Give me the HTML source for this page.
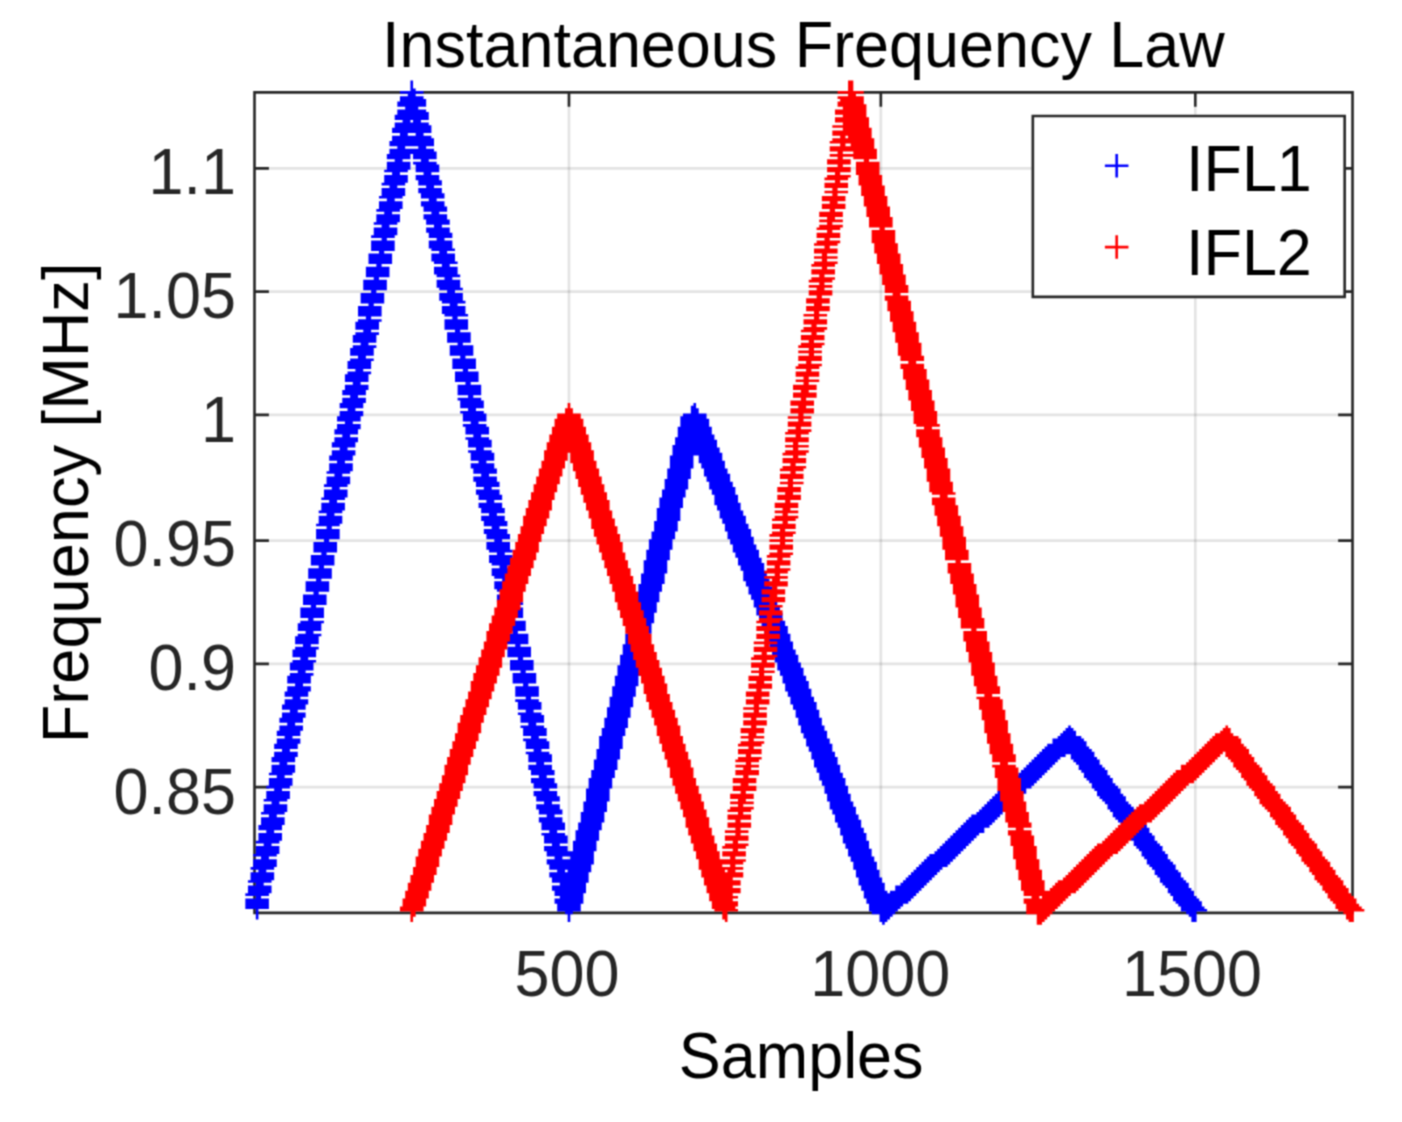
<!DOCTYPE html>
<html><head><meta charset="utf-8"><title>Instantaneous Frequency Law</title>
<style>
html,body{margin:0;padding:0;background:#fff;}
body{width:1402px;height:1122px;overflow:hidden;}
svg{display:block;}
text{font-family:"Liberation Sans",sans-serif;}
</style></head><body>
<svg width="1402" height="1122" viewBox="0 0 1402 1122">
<defs><filter id="soft" x="0" y="0" width="100%" height="100%" filterUnits="userSpaceOnUse" color-interpolation-filters="sRGB">
<feConvolveMatrix order="3" kernelMatrix="0.0529 0.1242 0.0529 0.1242 0.2916 0.1242 0.0529 0.1242 0.0529" edgeMode="duplicate" preserveAlpha="true"/></filter></defs>
<g filter="url(#soft)">
<rect width="1402" height="1122" fill="#fff"/>
<g transform="translate(253.190 91.089) scale(2.6206 2.6215)">
<path d="M120 1h1v312h-1zM239 1h1v312h-1zM359 1h1v312h-1z" fill="#262626" fill-opacity="0.13"/>
<path d="M1 29h418v1h-418zM1 76h418v1h-418zM1 123h418v1h-418zM1 171h418v1h-418zM1 218h418v1h-418zM1 265h418v1h-418z" fill="#262626" fill-opacity="0.13"/>
<path d="M0 0h420v1h-420zM0 313h420v1h-420zM0 0h1v314h-1zM419 0h1v314h-1zM120 1h1v5h-1zM120 308h1v5h-1zM239 1h1v5h-1zM239 308h1v5h-1zM359 1h1v5h-1zM359 308h1v5h-1zM1 29h5v1h-5zM414 29h5v1h-5zM1 76h5v1h-5zM414 76h5v1h-5zM1 123h5v1h-5zM414 123h5v1h-5zM1 171h5v1h-5zM414 171h5v1h-5zM1 218h5v1h-5zM414 218h5v1h-5zM1 265h5v1h-5zM414 265h5v1h-5z" fill="#262626"/>
<path fill="#0000ff" d="M60 -4h1v1h-1zM60 -3h1v1h-1zM60 -2h1v1h-1zM60 -1h2v1h-2zM56 0h9v1h-9zM59 1h3v1h-3zM56 2h9v1h-9zM56 3h10v1h-10zM55 4h11v1h-11zM55 5h11v1h-11zM58 6h5v1h-5zM55 7h11v1h-11zM55 8h12v1h-12zM54 9h13v1h-13zM54 10h13v1h-13zM57 11h3v1h-3zM61 11h3v1h-3zM54 12h13v1h-13zM54 13h14v1h-14zM53 14h15v1h-15zM53 15h15v1h-15zM56 16h3v1h-3zM62 16h3v1h-3zM53 17h15v1h-15zM53 18h16v1h-16zM52 19h17v1h-17zM52 20h17v1h-17zM55 21h3v1h-3zM63 21h3v1h-3zM52 22h17v1h-17zM52 23h18v1h-18zM51 24h9v1h-9zM61 24h9v1h-9zM51 25h9v1h-9zM61 25h9v1h-9zM54 26h3v1h-3zM64 26h3v1h-3zM51 27h9v1h-9zM61 27h9v1h-9zM51 28h9v1h-9zM62 28h9v1h-9zM51 29h9v1h-9zM62 29h9v1h-9zM50 30h9v1h-9zM62 30h9v1h-9zM53 31h3v1h-3zM65 31h3v1h-3zM50 32h9v1h-9zM62 32h9v1h-9zM50 33h9v1h-9zM62 33h9v1h-9zM50 34h9v1h-9zM63 34h9v1h-9zM49 35h9v1h-9zM63 35h9v1h-9zM52 36h3v1h-3zM66 36h3v1h-3zM49 37h9v1h-9zM63 37h9v1h-9zM49 38h9v1h-9zM63 38h9v1h-9zM49 39h9v1h-9zM64 39h9v1h-9zM48 40h9v1h-9zM64 40h9v1h-9zM51 41h3v1h-3zM67 41h3v1h-3zM48 42h9v1h-9zM64 42h9v1h-9zM48 43h9v1h-9zM64 43h9v1h-9zM48 44h9v1h-9zM65 44h9v1h-9zM47 45h9v1h-9zM65 45h9v1h-9zM50 46h3v1h-3zM68 46h3v1h-3zM47 47h9v1h-9zM65 47h9v1h-9zM47 48h9v1h-9zM65 48h9v1h-9zM47 49h9v1h-9zM66 49h9v1h-9zM46 50h9v1h-9zM66 50h9v1h-9zM49 51h3v1h-3zM69 51h3v1h-3zM46 52h9v1h-9zM66 52h9v1h-9zM46 53h9v1h-9zM66 53h9v1h-9zM46 54h9v1h-9zM67 54h9v1h-9zM45 55h9v1h-9zM67 55h9v1h-9zM49 56h2v1h-2zM70 56h3v1h-3zM45 57h9v1h-9zM67 57h9v1h-9zM45 58h9v1h-9zM67 58h9v1h-9zM45 59h9v1h-9zM67 59h9v1h-9zM45 60h9v1h-9zM68 60h9v1h-9zM48 61h2v1h-2zM71 61h3v1h-3zM44 62h9v1h-9zM68 62h9v1h-9zM44 63h9v1h-9zM68 63h9v1h-9zM44 64h9v1h-9zM68 64h9v1h-9zM44 65h9v1h-9zM69 65h9v1h-9zM47 66h2v1h-2zM72 66h3v1h-3zM43 67h9v1h-9zM69 67h9v1h-9zM43 68h9v1h-9zM69 68h9v1h-9zM43 69h9v1h-9zM69 69h9v1h-9zM43 70h9v1h-9zM70 70h9v1h-9zM46 71h2v1h-2zM73 71h3v1h-3zM42 72h9v1h-9zM70 72h9v1h-9zM42 73h9v1h-9zM70 73h9v1h-9zM42 74h9v1h-9zM70 74h9v1h-9zM42 75h9v1h-9zM71 75h9v1h-9zM45 76h2v1h-2zM74 76h3v1h-3zM41 77h9v1h-9zM71 77h9v1h-9zM41 78h9v1h-9zM71 78h9v1h-9zM41 79h9v1h-9zM71 79h9v1h-9zM41 80h9v1h-9zM72 80h9v1h-9zM44 81h2v1h-2zM75 81h3v1h-3zM40 82h9v1h-9zM72 82h9v1h-9zM40 83h9v1h-9zM72 83h9v1h-9zM40 84h9v1h-9zM72 84h9v1h-9zM40 85h9v1h-9zM73 85h9v1h-9zM43 86h2v1h-2zM76 86h2v1h-2zM40 87h9v1h-9zM73 87h9v1h-9zM39 88h9v1h-9zM73 88h9v1h-9zM39 89h9v1h-9zM73 89h9v1h-9zM39 90h9v1h-9zM73 90h9v1h-9zM42 91h3v1h-3zM77 91h2v1h-2zM39 92h9v1h-9zM74 92h9v1h-9zM38 93h9v1h-9zM74 93h9v1h-9zM38 94h9v1h-9zM74 94h9v1h-9zM38 95h9v1h-9zM74 95h9v1h-9zM41 96h3v1h-3zM78 96h2v1h-2zM38 97h9v1h-9zM75 97h9v1h-9zM37 98h9v1h-9zM75 98h9v1h-9zM37 99h9v1h-9zM75 99h9v1h-9zM37 100h9v1h-9zM75 100h9v1h-9zM40 101h3v1h-3zM79 101h2v1h-2zM37 102h9v1h-9zM76 102h9v1h-9zM36 103h9v1h-9zM76 103h9v1h-9zM36 104h9v1h-9zM76 104h9v1h-9zM36 105h9v1h-9zM76 105h9v1h-9zM39 106h3v1h-3zM80 106h2v1h-2zM36 107h9v1h-9zM77 107h9v1h-9zM35 108h9v1h-9zM77 108h9v1h-9zM35 109h9v1h-9zM77 109h9v1h-9zM35 110h9v1h-9zM77 110h9v1h-9zM38 111h3v1h-3zM81 111h2v1h-2zM35 112h9v1h-9zM78 112h9v1h-9zM35 113h9v1h-9zM78 113h9v1h-9zM34 114h9v1h-9zM78 114h9v1h-9zM34 115h9v1h-9zM78 115h9v1h-9zM37 116h3v1h-3zM82 116h2v1h-2zM34 117h9v1h-9zM78 117h9v1h-9zM34 118h9v1h-9zM79 118h9v1h-9zM33 119h9v1h-9zM79 119h9v1h-9zM168 119h1v1h-1zM33 120h9v1h-9zM79 120h9v1h-9zM167 120h2v1h-2zM36 121h3v1h-3zM82 121h3v1h-3zM167 121h3v1h-3zM33 122h9v1h-9zM79 122h9v1h-9zM167 122h3v1h-3zM33 123h9v1h-9zM80 123h9v1h-9zM164 123h9v1h-9zM32 124h9v1h-9zM80 124h9v1h-9zM163 124h10v1h-10zM32 125h9v1h-9zM80 125h9v1h-9zM163 125h11v1h-11zM35 126h3v1h-3zM83 126h3v1h-3zM163 126h11v1h-11zM32 127h9v1h-9zM80 127h9v1h-9zM163 127h11v1h-11zM32 128h9v1h-9zM81 128h9v1h-9zM162 128h13v1h-13zM31 129h9v1h-9zM81 129h9v1h-9zM162 129h13v1h-13zM31 130h9v1h-9zM81 130h9v1h-9zM162 130h13v1h-13zM34 131h3v1h-3zM84 131h3v1h-3zM162 131h14v1h-14zM31 132h9v1h-9zM81 132h9v1h-9zM161 132h15v1h-15zM31 133h9v1h-9zM82 133h9v1h-9zM161 133h16v1h-16zM30 134h9v1h-9zM82 134h9v1h-9zM161 134h16v1h-16zM30 135h9v1h-9zM82 135h9v1h-9zM160 135h17v1h-17zM33 136h3v1h-3zM85 136h3v1h-3zM160 136h18v1h-18zM30 137h9v1h-9zM82 137h9v1h-9zM160 137h18v1h-18zM30 138h9v1h-9zM83 138h9v1h-9zM160 138h19v1h-19zM29 139h9v1h-9zM83 139h9v1h-9zM159 139h9v1h-9zM170 139h9v1h-9zM29 140h9v1h-9zM83 140h9v1h-9zM159 140h9v1h-9zM170 140h9v1h-9zM32 141h3v1h-3zM86 141h3v1h-3zM159 141h9v1h-9zM170 141h10v1h-10zM29 142h9v1h-9zM83 142h9v1h-9zM159 142h9v1h-9zM171 142h9v1h-9zM29 143h9v1h-9zM83 143h9v1h-9zM159 143h9v1h-9zM171 143h9v1h-9zM29 144h9v1h-9zM84 144h9v1h-9zM158 144h9v1h-9zM172 144h9v1h-9zM28 145h9v1h-9zM84 145h9v1h-9zM158 145h9v1h-9zM172 145h9v1h-9zM31 146h3v1h-3zM87 146h3v1h-3zM158 146h9v1h-9zM172 146h10v1h-10zM28 147h9v1h-9zM84 147h9v1h-9zM158 147h9v1h-9zM173 147h9v1h-9zM28 148h9v1h-9zM84 148h9v1h-9zM157 148h9v1h-9zM173 148h9v1h-9zM28 149h9v1h-9zM85 149h9v1h-9zM157 149h9v1h-9zM174 149h9v1h-9zM27 150h9v1h-9zM85 150h9v1h-9zM157 150h9v1h-9zM174 150h9v1h-9zM30 151h3v1h-3zM88 151h3v1h-3zM157 151h9v1h-9zM174 151h10v1h-10zM27 152h9v1h-9zM85 152h9v1h-9zM156 152h9v1h-9zM175 152h9v1h-9zM27 153h9v1h-9zM85 153h9v1h-9zM156 153h9v1h-9zM175 153h9v1h-9zM27 154h9v1h-9zM86 154h9v1h-9zM156 154h9v1h-9zM176 154h9v1h-9zM26 155h9v1h-9zM86 155h9v1h-9zM155 155h9v1h-9zM176 155h9v1h-9zM29 156h3v1h-3zM89 156h3v1h-3zM155 156h9v1h-9zM176 156h9v1h-9zM26 157h9v1h-9zM86 157h9v1h-9zM155 157h9v1h-9zM176 157h10v1h-10zM26 158h9v1h-9zM86 158h9v1h-9zM155 158h9v1h-9zM177 158h9v1h-9zM26 159h9v1h-9zM87 159h9v1h-9zM154 159h9v1h-9zM177 159h9v1h-9zM25 160h9v1h-9zM87 160h9v1h-9zM154 160h9v1h-9zM178 160h9v1h-9zM28 161h3v1h-3zM90 161h3v1h-3zM154 161h9v1h-9zM178 161h9v1h-9zM25 162h9v1h-9zM87 162h9v1h-9zM154 162h9v1h-9zM178 162h10v1h-10zM25 163h9v1h-9zM87 163h9v1h-9zM154 163h9v1h-9zM179 163h9v1h-9zM25 164h9v1h-9zM88 164h9v1h-9zM153 164h9v1h-9zM179 164h9v1h-9zM24 165h9v1h-9zM88 165h9v1h-9zM153 165h9v1h-9zM180 165h9v1h-9zM28 166h2v1h-2zM91 166h3v1h-3zM153 166h9v1h-9zM180 166h9v1h-9zM24 167h9v1h-9zM88 167h9v1h-9zM153 167h9v1h-9zM180 167h10v1h-10zM24 168h9v1h-9zM88 168h9v1h-9zM152 168h9v1h-9zM181 168h9v1h-9zM24 169h9v1h-9zM89 169h9v1h-9zM152 169h9v1h-9zM181 169h9v1h-9zM24 170h9v1h-9zM89 170h9v1h-9zM152 170h9v1h-9zM181 170h10v1h-10zM27 171h2v1h-2zM92 171h3v1h-3zM151 171h9v1h-9zM182 171h9v1h-9zM23 172h9v1h-9zM89 172h9v1h-9zM151 172h9v1h-9zM182 172h9v1h-9zM23 173h9v1h-9zM89 173h9v1h-9zM151 173h9v1h-9zM183 173h9v1h-9zM23 174h9v1h-9zM89 174h9v1h-9zM151 174h9v1h-9zM183 174h9v1h-9zM23 175h9v1h-9zM90 175h9v1h-9zM150 175h9v1h-9zM183 175h10v1h-10zM26 176h2v1h-2zM93 176h3v1h-3zM150 176h9v1h-9zM184 176h9v1h-9zM22 177h9v1h-9zM90 177h9v1h-9zM150 177h9v1h-9zM184 177h9v1h-9zM22 178h9v1h-9zM90 178h9v1h-9zM150 178h9v1h-9zM185 178h9v1h-9zM22 179h9v1h-9zM90 179h9v1h-9zM149 179h9v1h-9zM185 179h9v1h-9zM22 180h9v1h-9zM91 180h9v1h-9zM149 180h9v1h-9zM185 180h10v1h-10zM25 181h2v1h-2zM94 181h3v1h-3zM149 181h9v1h-9zM186 181h9v1h-9zM21 182h9v1h-9zM91 182h9v1h-9zM149 182h9v1h-9zM186 182h9v1h-9zM21 183h9v1h-9zM91 183h9v1h-9zM149 183h9v1h-9zM187 183h9v1h-9zM21 184h9v1h-9zM91 184h9v1h-9zM148 184h9v1h-9zM187 184h9v1h-9zM21 185h9v1h-9zM92 185h9v1h-9zM148 185h9v1h-9zM187 185h9v1h-9zM24 186h2v1h-2zM95 186h3v1h-3zM148 186h9v1h-9zM187 186h10v1h-10zM20 187h9v1h-9zM92 187h9v1h-9zM148 187h9v1h-9zM188 187h9v1h-9zM20 188h9v1h-9zM92 188h9v1h-9zM147 188h9v1h-9zM188 188h9v1h-9zM20 189h9v1h-9zM92 189h9v1h-9zM147 189h9v1h-9zM189 189h9v1h-9zM20 190h9v1h-9zM93 190h9v1h-9zM147 190h9v1h-9zM189 190h9v1h-9zM23 191h2v1h-2zM96 191h3v1h-3zM146 191h9v1h-9zM189 191h10v1h-10zM19 192h9v1h-9zM93 192h9v1h-9zM146 192h9v1h-9zM190 192h9v1h-9zM19 193h9v1h-9zM93 193h9v1h-9zM146 193h9v1h-9zM190 193h9v1h-9zM19 194h9v1h-9zM93 194h9v1h-9zM146 194h9v1h-9zM191 194h9v1h-9zM19 195h9v1h-9zM94 195h9v1h-9zM145 195h9v1h-9zM191 195h9v1h-9zM22 196h2v1h-2zM97 196h2v1h-2zM145 196h9v1h-9zM191 196h10v1h-10zM18 197h9v1h-9zM94 197h9v1h-9zM145 197h9v1h-9zM192 197h9v1h-9zM18 198h9v1h-9zM94 198h9v1h-9zM145 198h9v1h-9zM192 198h9v1h-9zM18 199h9v1h-9zM94 199h9v1h-9zM144 199h9v1h-9zM192 199h10v1h-10zM18 200h9v1h-9zM94 200h9v1h-9zM144 200h9v1h-9zM193 200h9v1h-9zM21 201h2v1h-2zM98 201h2v1h-2zM144 201h9v1h-9zM193 201h9v1h-9zM18 202h9v1h-9zM95 202h9v1h-9zM144 202h9v1h-9zM194 202h9v1h-9zM17 203h9v1h-9zM95 203h9v1h-9zM143 203h9v1h-9zM194 203h9v1h-9zM17 204h9v1h-9zM95 204h9v1h-9zM143 204h9v1h-9zM194 204h10v1h-10zM17 205h9v1h-9zM95 205h9v1h-9zM143 205h9v1h-9zM195 205h9v1h-9zM20 206h3v1h-3zM99 206h2v1h-2zM143 206h9v1h-9zM195 206h9v1h-9zM17 207h9v1h-9zM96 207h9v1h-9zM142 207h9v1h-9zM196 207h9v1h-9zM16 208h9v1h-9zM96 208h9v1h-9zM142 208h9v1h-9zM196 208h9v1h-9zM16 209h9v1h-9zM96 209h9v1h-9zM142 209h9v1h-9zM196 209h9v1h-9zM16 210h9v1h-9zM96 210h9v1h-9zM142 210h9v1h-9zM197 210h9v1h-9zM19 211h3v1h-3zM100 211h2v1h-2zM141 211h9v1h-9zM197 211h9v1h-9zM16 212h9v1h-9zM97 212h9v1h-9zM141 212h9v1h-9zM197 212h9v1h-9zM15 213h9v1h-9zM97 213h9v1h-9zM141 213h9v1h-9zM198 213h9v1h-9zM15 214h9v1h-9zM97 214h9v1h-9zM141 214h9v1h-9zM198 214h9v1h-9zM15 215h9v1h-9zM97 215h9v1h-9zM140 215h9v1h-9zM198 215h10v1h-10zM18 216h3v1h-3zM101 216h2v1h-2zM140 216h9v1h-9zM199 216h9v1h-9zM15 217h9v1h-9zM98 217h9v1h-9zM140 217h9v1h-9zM199 217h9v1h-9zM14 218h9v1h-9zM98 218h9v1h-9zM140 218h9v1h-9zM200 218h9v1h-9zM14 219h9v1h-9zM98 219h9v1h-9zM139 219h9v1h-9zM200 219h9v1h-9zM14 220h9v1h-9zM98 220h9v1h-9zM139 220h9v1h-9zM200 220h10v1h-10zM17 221h3v1h-3zM102 221h2v1h-2zM139 221h9v1h-9zM201 221h9v1h-9zM14 222h9v1h-9zM99 222h9v1h-9zM139 222h9v1h-9zM201 222h9v1h-9zM13 223h9v1h-9zM99 223h9v1h-9zM138 223h9v1h-9zM202 223h9v1h-9zM13 224h9v1h-9zM99 224h9v1h-9zM138 224h9v1h-9zM202 224h9v1h-9zM13 225h9v1h-9zM99 225h9v1h-9zM138 225h9v1h-9zM202 225h10v1h-10zM16 226h3v1h-3zM103 226h2v1h-2zM138 226h9v1h-9zM203 226h9v1h-9zM13 227h9v1h-9zM100 227h9v1h-9zM137 227h9v1h-9zM203 227h9v1h-9zM13 228h9v1h-9zM100 228h9v1h-9zM137 228h9v1h-9zM203 228h10v1h-10zM12 229h9v1h-9zM100 229h9v1h-9zM137 229h9v1h-9zM204 229h9v1h-9zM12 230h9v1h-9zM100 230h9v1h-9zM137 230h9v1h-9zM204 230h9v1h-9zM15 231h3v1h-3zM104 231h2v1h-2zM136 231h9v1h-9zM205 231h9v1h-9zM12 232h9v1h-9zM100 232h9v1h-9zM136 232h9v1h-9zM205 232h9v1h-9zM12 233h9v1h-9zM101 233h9v1h-9zM136 233h9v1h-9zM205 233h10v1h-10zM11 234h9v1h-9zM101 234h9v1h-9zM136 234h9v1h-9zM206 234h9v1h-9zM11 235h9v1h-9zM101 235h9v1h-9zM135 235h9v1h-9zM206 235h9v1h-9zM14 236h3v1h-3zM104 236h3v1h-3zM135 236h9v1h-9zM207 236h9v1h-9zM11 237h9v1h-9zM101 237h9v1h-9zM135 237h9v1h-9zM207 237h9v1h-9zM11 238h9v1h-9zM102 238h9v1h-9zM135 238h9v1h-9zM207 238h9v1h-9zM10 239h9v1h-9zM102 239h9v1h-9zM134 239h9v1h-9zM208 239h9v1h-9zM10 240h9v1h-9zM102 240h9v1h-9zM134 240h9v1h-9zM208 240h9v1h-9zM13 241h3v1h-3zM105 241h3v1h-3zM134 241h9v1h-9zM208 241h9v1h-9zM10 242h9v1h-9zM102 242h9v1h-9zM134 242h9v1h-9zM209 242h9v1h-9zM311 242h1v1h-1zM10 243h9v1h-9zM103 243h9v1h-9zM133 243h9v1h-9zM209 243h9v1h-9zM310 243h3v1h-3zM9 244h9v1h-9zM103 244h9v1h-9zM133 244h9v1h-9zM209 244h10v1h-10zM309 244h5v1h-5zM9 245h9v1h-9zM103 245h9v1h-9zM133 245h9v1h-9zM210 245h9v1h-9zM308 245h6v1h-6zM12 246h3v1h-3zM106 246h3v1h-3zM132 246h9v1h-9zM210 246h9v1h-9zM307 246h9v1h-9zM9 247h9v1h-9zM103 247h9v1h-9zM132 247h9v1h-9zM211 247h9v1h-9zM305 247h12v1h-12zM9 248h9v1h-9zM104 248h9v1h-9zM132 248h9v1h-9zM211 248h9v1h-9zM305 248h13v1h-13zM8 249h9v1h-9zM104 249h9v1h-9zM132 249h9v1h-9zM211 249h10v1h-10zM303 249h15v1h-15zM8 250h9v1h-9zM104 250h9v1h-9zM132 250h9v1h-9zM212 250h9v1h-9zM302 250h17v1h-17zM11 251h3v1h-3zM107 251h3v1h-3zM131 251h9v1h-9zM212 251h9v1h-9zM301 251h19v1h-19zM8 252h9v1h-9zM104 252h9v1h-9zM131 252h9v1h-9zM213 252h9v1h-9zM300 252h21v1h-21zM8 253h9v1h-9zM105 253h9v1h-9zM131 253h9v1h-9zM213 253h9v1h-9zM299 253h11v1h-11zM312 253h9v1h-9zM7 254h9v1h-9zM105 254h9v1h-9zM131 254h9v1h-9zM213 254h10v1h-10zM298 254h10v1h-10zM312 254h10v1h-10zM7 255h9v1h-9zM105 255h9v1h-9zM130 255h9v1h-9zM214 255h9v1h-9zM297 255h10v1h-10zM313 255h10v1h-10zM10 256h3v1h-3zM108 256h3v1h-3zM130 256h9v1h-9zM214 256h9v1h-9zM296 256h10v1h-10zM314 256h9v1h-9zM7 257h9v1h-9zM105 257h9v1h-9zM130 257h9v1h-9zM214 257h10v1h-10zM295 257h10v1h-10zM315 257h9v1h-9zM7 258h9v1h-9zM105 258h9v1h-9zM130 258h9v1h-9zM215 258h9v1h-9zM294 258h10v1h-10zM315 258h10v1h-10zM7 259h9v1h-9zM106 259h9v1h-9zM129 259h9v1h-9zM215 259h9v1h-9zM293 259h10v1h-10zM316 259h10v1h-10zM6 260h9v1h-9zM106 260h9v1h-9zM129 260h9v1h-9zM216 260h9v1h-9zM292 260h10v1h-10zM317 260h9v1h-9zM9 261h3v1h-3zM109 261h3v1h-3zM129 261h9v1h-9zM216 261h9v1h-9zM290 261h11v1h-11zM317 261h10v1h-10zM6 262h9v1h-9zM106 262h9v1h-9zM128 262h9v1h-9zM216 262h10v1h-10zM289 262h11v1h-11zM318 262h10v1h-10zM6 263h9v1h-9zM106 263h9v1h-9zM128 263h9v1h-9zM217 263h9v1h-9zM288 263h11v1h-11zM319 263h9v1h-9zM6 264h9v1h-9zM107 264h9v1h-9zM128 264h9v1h-9zM217 264h9v1h-9zM287 264h11v1h-11zM320 264h9v1h-9zM5 265h9v1h-9zM107 265h9v1h-9zM128 265h9v1h-9zM218 265h9v1h-9zM286 265h11v1h-11zM320 265h10v1h-10zM8 266h3v1h-3zM110 266h3v1h-3zM127 266h9v1h-9zM218 266h9v1h-9zM285 266h10v1h-10zM321 266h10v1h-10zM5 267h9v1h-9zM107 267h9v1h-9zM127 267h9v1h-9zM218 267h9v1h-9zM284 267h11v1h-11zM322 267h9v1h-9zM5 268h9v1h-9zM107 268h9v1h-9zM127 268h9v1h-9zM219 268h9v1h-9zM283 268h10v1h-10zM322 268h10v1h-10zM5 269h9v1h-9zM108 269h9v1h-9zM127 269h9v1h-9zM219 269h9v1h-9zM282 269h10v1h-10zM323 269h10v1h-10zM4 270h9v1h-9zM108 270h9v1h-9zM127 270h9v1h-9zM219 270h9v1h-9zM281 270h10v1h-10zM324 270h9v1h-9zM7 271h3v1h-3zM111 271h3v1h-3zM126 271h9v1h-9zM220 271h9v1h-9zM280 271h10v1h-10zM325 271h9v1h-9zM4 272h9v1h-9zM108 272h9v1h-9zM126 272h9v1h-9zM220 272h9v1h-9zM279 272h10v1h-10zM326 272h9v1h-9zM4 273h9v1h-9zM108 273h9v1h-9zM126 273h9v1h-9zM220 273h10v1h-10zM278 273h10v1h-10zM326 273h10v1h-10zM4 274h9v1h-9zM109 274h9v1h-9zM126 274h9v1h-9zM221 274h9v1h-9zM277 274h10v1h-10zM327 274h10v1h-10zM3 275h9v1h-9zM109 275h9v1h-9zM125 275h9v1h-9zM221 275h9v1h-9zM276 275h10v1h-10zM328 275h9v1h-9zM6 276h3v1h-3zM112 276h3v1h-3zM125 276h9v1h-9zM222 276h9v1h-9zM274 276h11v1h-11zM328 276h10v1h-10zM3 277h9v1h-9zM109 277h9v1h-9zM125 277h9v1h-9zM222 277h9v1h-9zM273 277h11v1h-11zM329 277h10v1h-10zM3 278h9v1h-9zM109 278h9v1h-9zM125 278h9v1h-9zM222 278h10v1h-10zM272 278h11v1h-11zM330 278h9v1h-9zM3 279h9v1h-9zM110 279h9v1h-9zM124 279h9v1h-9zM223 279h9v1h-9zM271 279h11v1h-11zM331 279h9v1h-9zM2 280h9v1h-9zM110 280h9v1h-9zM124 280h9v1h-9zM223 280h9v1h-9zM270 280h11v1h-11zM331 280h10v1h-10zM2 281h9v1h-9zM110 281h9v1h-9zM124 281h9v1h-9zM224 281h9v1h-9zM269 281h10v1h-10zM332 281h10v1h-10zM5 282h3v1h-3zM113 282h3v1h-3zM123 282h9v1h-9zM224 282h9v1h-9zM268 282h11v1h-11zM333 282h9v1h-9zM2 283h9v1h-9zM110 283h9v1h-9zM123 283h9v1h-9zM224 283h10v1h-10zM267 283h10v1h-10zM333 283h10v1h-10zM2 284h9v1h-9zM111 284h9v1h-9zM123 284h9v1h-9zM225 284h9v1h-9zM266 284h10v1h-10zM334 284h10v1h-10zM2 285h9v1h-9zM111 285h9v1h-9zM123 285h9v1h-9zM225 285h9v1h-9zM265 285h10v1h-10zM335 285h9v1h-9zM1 286h9v1h-9zM111 286h9v1h-9zM122 286h9v1h-9zM225 286h10v1h-10zM264 286h10v1h-10zM336 286h9v1h-9zM4 287h3v1h-3zM114 287h3v1h-3zM122 287h9v1h-9zM226 287h9v1h-9zM263 287h10v1h-10zM336 287h10v1h-10zM1 288h9v1h-9zM111 288h9v1h-9zM122 288h9v1h-9zM226 288h9v1h-9zM262 288h10v1h-10zM337 288h10v1h-10zM1 289h9v1h-9zM111 289h9v1h-9zM122 289h9v1h-9zM227 289h9v1h-9zM261 289h10v1h-10zM338 289h9v1h-9zM1 290h9v1h-9zM112 290h18v1h-18zM227 290h9v1h-9zM260 290h10v1h-10zM339 290h9v1h-9zM0 291h9v1h-9zM112 291h18v1h-18zM227 291h9v1h-9zM258 291h11v1h-11zM339 291h10v1h-10zM3 292h3v1h-3zM115 292h3v1h-3zM121 292h9v1h-9zM228 292h9v1h-9zM257 292h11v1h-11zM340 292h9v1h-9zM0 293h9v1h-9zM112 293h18v1h-18zM228 293h9v1h-9zM256 293h11v1h-11zM341 293h9v1h-9zM0 294h9v1h-9zM112 294h18v1h-18zM229 294h9v1h-9zM255 294h11v1h-11zM341 294h10v1h-10zM0 295h9v1h-9zM113 295h16v1h-16zM229 295h9v1h-9zM254 295h11v1h-11zM342 295h10v1h-10zM-1 296h9v1h-9zM113 296h16v1h-16zM229 296h9v1h-9zM253 296h10v1h-10zM343 296h9v1h-9zM2 297h3v1h-3zM116 297h3v1h-3zM120 297h9v1h-9zM230 297h9v1h-9zM252 297h10v1h-10zM344 297h9v1h-9zM-1 298h9v1h-9zM113 298h15v1h-15zM230 298h9v1h-9zM251 298h10v1h-10zM344 298h10v1h-10zM-1 299h9v1h-9zM113 299h15v1h-15zM230 299h9v1h-9zM250 299h10v1h-10zM345 299h9v1h-9zM-1 300h9v1h-9zM114 300h14v1h-14zM231 300h9v1h-9zM249 300h10v1h-10zM346 300h9v1h-9zM-2 301h9v1h-9zM114 301h14v1h-14zM231 301h9v1h-9zM248 301h10v1h-10zM346 301h10v1h-10zM1 302h3v1h-3zM117 302h10v1h-10zM231 302h10v1h-10zM247 302h10v1h-10zM347 302h10v1h-10zM-2 303h9v1h-9zM114 303h13v1h-13zM232 303h9v1h-9zM245 303h11v1h-11zM348 303h9v1h-9zM-2 304h9v1h-9zM114 304h13v1h-13zM232 304h9v1h-9zM245 304h10v1h-10zM349 304h9v1h-9zM-2 305h9v1h-9zM115 305h12v1h-12zM233 305h9v1h-9zM243 305h11v1h-11zM349 305h10v1h-10zM-3 306h9v1h-9zM115 306h11v1h-11zM233 306h20v1h-20zM350 306h9v1h-9zM1 307h2v1h-2zM117 307h9v1h-9zM233 307h19v1h-19zM351 307h9v1h-9zM-3 308h9v1h-9zM115 308h11v1h-11zM234 308h17v1h-17zM351 308h10v1h-10zM-3 309h9v1h-9zM115 309h11v1h-11zM234 309h16v1h-16zM352 309h10v1h-10zM-3 310h9v1h-9zM116 310h9v1h-9zM235 310h13v1h-13zM353 310h9v1h-9zM-3 311h9v1h-9zM116 311h9v1h-9zM235 311h12v1h-12zM354 311h9v1h-9zM1 312h1v1h-1zM116 312h9v1h-9zM235 312h11v1h-11zM354 312h10v1h-10zM1 313h1v1h-1zM119 313h3v1h-3zM236 313h9v1h-9zM356 313h4v1h-4zM1 314h1v1h-1zM120 314h1v1h-1zM239 314h5v1h-5zM357 314h3v1h-3zM1 315h1v1h-1zM120 315h1v1h-1zM239 315h4v1h-4zM358 315h2v1h-2zM120 316h1v1h-1zM239 316h3v1h-3zM358 316h2v1h-2zM240 317h1v1h-1z"/>
<path fill="#ff0000" d="M227 -4h2v1h-2zM227 -3h2v1h-2zM227 -2h2v1h-2zM227 -1h2v1h-2zM223 0h10v1h-10zM227 1h3v1h-3zM223 2h10v1h-10zM224 3h9v1h-9zM223 4h10v1h-10zM223 5h11v1h-11zM225 6h9v1h-9zM222 7h12v1h-12zM222 8h12v1h-12zM225 9h9v1h-9zM222 10h13v1h-13zM222 11h13v1h-13zM225 12h10v1h-10zM221 13h14v1h-14zM225 14h11v1h-11zM221 15h15v1h-15zM221 16h15v1h-15zM224 17h2v1h-2zM227 17h9v1h-9zM221 18h16v1h-16zM220 19h17v1h-17zM224 20h2v1h-2zM228 20h9v1h-9zM220 21h17v1h-17zM220 22h18v1h-18zM223 23h2v1h-2zM229 23h9v1h-9zM220 24h18v1h-18zM223 25h2v1h-2zM229 25h9v1h-9zM219 26h9v1h-9zM233 26h2v1h-2zM219 27h9v1h-9zM230 27h9v1h-9zM223 28h2v1h-2zM230 28h9v1h-9zM219 29h9v1h-9zM230 29h9v1h-9zM219 30h9v1h-9zM230 30h9v1h-9zM222 31h2v1h-2zM230 31h9v1h-9zM219 32h9v1h-9zM231 32h9v1h-9zM218 33h9v1h-9zM231 33h9v1h-9zM222 34h2v1h-2zM231 34h9v1h-9zM218 35h9v1h-9zM231 35h9v1h-9zM218 36h9v1h-9zM232 36h9v1h-9zM221 37h2v1h-2zM232 37h9v1h-9zM218 38h9v1h-9zM232 38h9v1h-9zM221 39h2v1h-2zM232 39h9v1h-9zM217 40h9v1h-9zM233 40h9v1h-9zM217 41h9v1h-9zM233 41h9v1h-9zM220 42h3v1h-3zM233 42h9v1h-9zM217 43h9v1h-9zM233 43h9v1h-9zM217 44h9v1h-9zM234 44h9v1h-9zM220 45h2v1h-2zM234 45h9v1h-9zM216 46h9v1h-9zM234 46h9v1h-9zM216 47h9v1h-9zM234 47h9v1h-9zM219 48h3v1h-3zM235 48h9v1h-9zM216 49h9v1h-9zM235 49h9v1h-9zM219 50h2v1h-2zM235 50h9v1h-9zM216 51h9v1h-9zM235 51h9v1h-9zM215 52h9v1h-9zM239 52h2v1h-2zM219 53h2v1h-2zM236 53h9v1h-9zM215 54h9v1h-9zM236 54h9v1h-9zM215 55h9v1h-9zM236 55h9v1h-9zM218 56h2v1h-2zM236 56h9v1h-9zM215 57h9v1h-9zM236 57h9v1h-9zM214 58h9v1h-9zM237 58h9v1h-9zM218 59h2v1h-2zM237 59h9v1h-9zM214 60h9v1h-9zM237 60h9v1h-9zM214 61h9v1h-9zM237 61h9v1h-9zM217 62h2v1h-2zM238 62h9v1h-9zM214 63h9v1h-9zM238 63h9v1h-9zM217 64h2v1h-2zM238 64h9v1h-9zM214 65h9v1h-9zM238 65h9v1h-9zM213 66h9v1h-9zM239 66h9v1h-9zM217 67h2v1h-2zM239 67h9v1h-9zM213 68h9v1h-9zM239 68h9v1h-9zM213 69h9v1h-9zM239 69h9v1h-9zM216 70h2v1h-2zM240 70h9v1h-9zM213 71h9v1h-9zM240 71h9v1h-9zM212 72h9v1h-9zM240 72h9v1h-9zM216 73h2v1h-2zM240 73h9v1h-9zM212 74h9v1h-9zM241 74h9v1h-9zM215 75h3v1h-3zM241 75h9v1h-9zM212 76h9v1h-9zM241 76h9v1h-9zM212 77h9v1h-9zM244 77h3v1h-3zM215 78h2v1h-2zM241 78h9v1h-9zM211 79h9v1h-9zM241 79h9v1h-9zM211 80h9v1h-9zM242 80h9v1h-9zM214 81h3v1h-3zM242 81h9v1h-9zM211 82h9v1h-9zM242 82h9v1h-9zM211 83h9v1h-9zM242 83h9v1h-9zM214 84h2v1h-2zM243 84h9v1h-9zM210 85h9v1h-9zM243 85h9v1h-9zM214 86h2v1h-2zM243 86h9v1h-9zM210 87h9v1h-9zM243 87h9v1h-9zM210 88h9v1h-9zM244 88h9v1h-9zM213 89h2v1h-2zM244 89h9v1h-9zM210 90h9v1h-9zM244 90h9v1h-9zM209 91h9v1h-9zM244 91h9v1h-9zM213 92h2v1h-2zM245 92h9v1h-9zM209 93h9v1h-9zM245 93h9v1h-9zM209 94h9v1h-9zM245 94h9v1h-9zM212 95h2v1h-2zM245 95h9v1h-9zM209 96h9v1h-9zM246 96h9v1h-9zM208 97h9v1h-9zM246 97h9v1h-9zM212 98h2v1h-2zM246 98h9v1h-9zM208 99h9v1h-9zM246 99h9v1h-9zM212 100h2v1h-2zM246 100h9v1h-9zM208 101h9v1h-9zM247 101h9v1h-9zM208 102h9v1h-9zM247 102h9v1h-9zM211 103h2v1h-2zM250 103h3v1h-3zM208 104h9v1h-9zM247 104h9v1h-9zM207 105h9v1h-9zM247 105h9v1h-9zM211 106h2v1h-2zM248 106h9v1h-9zM207 107h9v1h-9zM248 107h9v1h-9zM207 108h9v1h-9zM248 108h9v1h-9zM210 109h2v1h-2zM248 109h9v1h-9zM207 110h9v1h-9zM249 110h9v1h-9zM210 111h2v1h-2zM249 111h9v1h-9zM206 112h9v1h-9zM249 112h9v1h-9zM206 113h9v1h-9zM249 113h9v1h-9zM209 114h3v1h-3zM250 114h9v1h-9zM206 115h9v1h-9zM250 115h9v1h-9zM206 116h9v1h-9zM250 116h9v1h-9zM209 117h2v1h-2zM250 117h9v1h-9zM205 118h9v1h-9zM251 118h9v1h-9zM120 119h1v1h-1zM205 119h9v1h-9zM251 119h9v1h-9zM120 120h1v1h-1zM208 120h3v1h-3zM251 120h9v1h-9zM119 121h3v1h-3zM205 121h9v1h-9zM251 121h9v1h-9zM119 122h3v1h-3zM205 122h9v1h-9zM252 122h9v1h-9zM116 123h9v1h-9zM208 123h2v1h-2zM252 123h9v1h-9zM116 124h9v1h-9zM204 124h9v1h-9zM252 124h9v1h-9zM115 125h11v1h-11zM208 125h2v1h-2zM252 125h9v1h-9zM115 126h11v1h-11zM204 126h9v1h-9zM252 126h9v1h-9zM115 127h11v1h-11zM204 127h9v1h-9zM253 127h9v1h-9zM114 128h13v1h-13zM207 128h2v1h-2zM256 128h3v1h-3zM114 129h13v1h-13zM204 129h9v1h-9zM253 129h9v1h-9zM114 130h13v1h-13zM203 130h9v1h-9zM253 130h9v1h-9zM113 131h15v1h-15zM207 131h2v1h-2zM253 131h9v1h-9zM113 132h15v1h-15zM203 132h9v1h-9zM254 132h9v1h-9zM113 133h15v1h-15zM203 133h9v1h-9zM254 133h9v1h-9zM112 134h17v1h-17zM206 134h2v1h-2zM254 134h9v1h-9zM112 135h17v1h-17zM203 135h9v1h-9zM254 135h9v1h-9zM112 136h17v1h-17zM206 136h2v1h-2zM255 136h9v1h-9zM111 137h19v1h-19zM203 137h9v1h-9zM255 137h9v1h-9zM111 138h9v1h-9zM121 138h9v1h-9zM202 138h9v1h-9zM255 138h9v1h-9zM111 139h9v1h-9zM121 139h9v1h-9zM206 139h2v1h-2zM255 139h9v1h-9zM111 140h9v1h-9zM121 140h9v1h-9zM202 140h9v1h-9zM256 140h9v1h-9zM110 141h9v1h-9zM121 141h10v1h-10zM202 141h9v1h-9zM256 141h9v1h-9zM110 142h9v1h-9zM122 142h9v1h-9zM205 142h2v1h-2zM256 142h9v1h-9zM110 143h9v1h-9zM122 143h9v1h-9zM202 143h9v1h-9zM256 143h9v1h-9zM109 144h9v1h-9zM122 144h10v1h-10zM201 144h9v1h-9zM257 144h9v1h-9zM109 145h9v1h-9zM123 145h9v1h-9zM205 145h2v1h-2zM257 145h9v1h-9zM109 146h9v1h-9zM123 146h9v1h-9zM201 146h9v1h-9zM257 146h9v1h-9zM108 147h9v1h-9zM123 147h10v1h-10zM201 147h9v1h-9zM257 147h9v1h-9zM108 148h9v1h-9zM124 148h9v1h-9zM204 148h2v1h-2zM257 148h9v1h-9zM108 149h9v1h-9zM124 149h9v1h-9zM201 149h9v1h-9zM258 149h9v1h-9zM107 150h9v1h-9zM124 150h10v1h-10zM204 150h2v1h-2zM258 150h9v1h-9zM107 151h9v1h-9zM125 151h9v1h-9zM200 151h9v1h-9zM258 151h9v1h-9zM107 152h9v1h-9zM125 152h9v1h-9zM200 152h9v1h-9zM258 152h9v1h-9zM106 153h9v1h-9zM125 153h10v1h-10zM203 153h3v1h-3zM259 153h9v1h-9zM106 154h9v1h-9zM126 154h9v1h-9zM200 154h9v1h-9zM262 154h3v1h-3zM106 155h9v1h-9zM126 155h9v1h-9zM200 155h9v1h-9zM259 155h9v1h-9zM105 156h9v1h-9zM126 156h10v1h-10zM203 156h2v1h-2zM259 156h9v1h-9zM105 157h9v1h-9zM127 157h9v1h-9zM199 157h9v1h-9zM259 157h9v1h-9zM105 158h9v1h-9zM127 158h9v1h-9zM199 158h9v1h-9zM260 158h9v1h-9zM104 159h10v1h-10zM127 159h9v1h-9zM202 159h3v1h-3zM260 159h9v1h-9zM104 160h9v1h-9zM128 160h9v1h-9zM199 160h9v1h-9zM260 160h9v1h-9zM104 161h9v1h-9zM128 161h9v1h-9zM202 161h2v1h-2zM260 161h9v1h-9zM103 162h10v1h-10zM128 162h9v1h-9zM199 162h9v1h-9zM261 162h9v1h-9zM103 163h9v1h-9zM129 163h9v1h-9zM198 163h9v1h-9zM261 163h9v1h-9zM103 164h9v1h-9zM129 164h9v1h-9zM202 164h2v1h-2zM261 164h9v1h-9zM103 165h9v1h-9zM129 165h9v1h-9zM198 165h9v1h-9zM261 165h9v1h-9zM102 166h9v1h-9zM129 166h10v1h-10zM198 166h9v1h-9zM262 166h9v1h-9zM102 167h9v1h-9zM130 167h9v1h-9zM201 167h2v1h-2zM262 167h9v1h-9zM102 168h9v1h-9zM130 168h9v1h-9zM198 168h9v1h-9zM262 168h9v1h-9zM101 169h9v1h-9zM130 169h10v1h-10zM197 169h9v1h-9zM262 169h9v1h-9zM101 170h9v1h-9zM131 170h9v1h-9zM201 170h2v1h-2zM263 170h9v1h-9zM101 171h9v1h-9zM131 171h9v1h-9zM197 171h9v1h-9zM263 171h9v1h-9zM100 172h9v1h-9zM131 172h10v1h-10zM201 172h2v1h-2zM263 172h9v1h-9zM100 173h9v1h-9zM132 173h9v1h-9zM197 173h9v1h-9zM263 173h9v1h-9zM100 174h9v1h-9zM132 174h9v1h-9zM197 174h9v1h-9zM263 174h9v1h-9zM99 175h10v1h-10zM132 175h9v1h-9zM200 175h2v1h-2zM264 175h9v1h-9zM99 176h9v1h-9zM133 176h9v1h-9zM197 176h9v1h-9zM264 176h9v1h-9zM99 177h9v1h-9zM133 177h9v1h-9zM196 177h9v1h-9zM264 177h9v1h-9zM98 178h10v1h-10zM133 178h9v1h-9zM200 178h2v1h-2zM264 178h9v1h-9zM98 179h9v1h-9zM134 179h9v1h-9zM196 179h9v1h-9zM268 179h2v1h-2zM98 180h9v1h-9zM134 180h9v1h-9zM196 180h9v1h-9zM265 180h9v1h-9zM97 181h10v1h-10zM134 181h9v1h-9zM199 181h2v1h-2zM265 181h9v1h-9zM97 182h9v1h-9zM135 182h9v1h-9zM196 182h9v1h-9zM265 182h9v1h-9zM97 183h9v1h-9zM135 183h9v1h-9zM195 183h9v1h-9zM265 183h9v1h-9zM96 184h10v1h-10zM135 184h9v1h-9zM199 184h2v1h-2zM266 184h9v1h-9zM96 185h9v1h-9zM136 185h9v1h-9zM195 185h9v1h-9zM266 185h9v1h-9zM96 186h9v1h-9zM136 186h9v1h-9zM198 186h3v1h-3zM266 186h9v1h-9zM95 187h10v1h-10zM136 187h9v1h-9zM195 187h9v1h-9zM266 187h9v1h-9zM95 188h9v1h-9zM137 188h9v1h-9zM195 188h9v1h-9zM267 188h9v1h-9zM95 189h9v1h-9zM137 189h9v1h-9zM198 189h2v1h-2zM267 189h9v1h-9zM94 190h10v1h-10zM137 190h9v1h-9zM194 190h9v1h-9zM267 190h9v1h-9zM94 191h9v1h-9zM138 191h9v1h-9zM194 191h9v1h-9zM267 191h9v1h-9zM94 192h9v1h-9zM138 192h9v1h-9zM197 192h3v1h-3zM268 192h9v1h-9zM94 193h9v1h-9zM138 193h9v1h-9zM194 193h9v1h-9zM268 193h9v1h-9zM93 194h10v1h-10zM138 194h9v1h-9zM194 194h9v1h-9zM268 194h9v1h-9zM93 195h9v1h-9zM139 195h9v1h-9zM197 195h2v1h-2zM268 195h9v1h-9zM93 196h9v1h-9zM139 196h9v1h-9zM193 196h9v1h-9zM268 196h9v1h-9zM92 197h10v1h-10zM139 197h9v1h-9zM197 197h2v1h-2zM269 197h9v1h-9zM92 198h9v1h-9zM140 198h9v1h-9zM193 198h9v1h-9zM269 198h9v1h-9zM92 199h9v1h-9zM140 199h9v1h-9zM193 199h9v1h-9zM269 199h9v1h-9zM91 200h10v1h-10zM140 200h9v1h-9zM196 200h2v1h-2zM269 200h9v1h-9zM91 201h9v1h-9zM141 201h9v1h-9zM193 201h9v1h-9zM270 201h9v1h-9zM91 202h9v1h-9zM141 202h9v1h-9zM192 202h9v1h-9zM270 202h9v1h-9zM90 203h10v1h-10zM141 203h9v1h-9zM196 203h2v1h-2zM270 203h9v1h-9zM90 204h9v1h-9zM142 204h9v1h-9zM192 204h9v1h-9zM270 204h9v1h-9zM90 205h9v1h-9zM142 205h9v1h-9zM192 205h9v1h-9zM274 205h2v1h-2zM89 206h10v1h-10zM142 206h9v1h-9zM195 206h2v1h-2zM271 206h9v1h-9zM89 207h9v1h-9zM143 207h9v1h-9zM192 207h9v1h-9zM271 207h9v1h-9zM89 208h9v1h-9zM143 208h9v1h-9zM192 208h9v1h-9zM271 208h9v1h-9zM89 209h9v1h-9zM143 209h9v1h-9zM195 209h2v1h-2zM271 209h9v1h-9zM88 210h9v1h-9zM143 210h9v1h-9zM191 210h9v1h-9zM272 210h9v1h-9zM88 211h9v1h-9zM144 211h9v1h-9zM195 211h2v1h-2zM272 211h9v1h-9zM88 212h9v1h-9zM144 212h9v1h-9zM191 212h9v1h-9zM272 212h9v1h-9zM87 213h9v1h-9zM144 213h9v1h-9zM191 213h9v1h-9zM272 213h9v1h-9zM87 214h9v1h-9zM145 214h9v1h-9zM194 214h2v1h-2zM273 214h9v1h-9zM87 215h9v1h-9zM145 215h9v1h-9zM191 215h9v1h-9zM273 215h9v1h-9zM86 216h9v1h-9zM145 216h9v1h-9zM190 216h9v1h-9zM273 216h9v1h-9zM86 217h9v1h-9zM146 217h9v1h-9zM194 217h2v1h-2zM273 217h9v1h-9zM86 218h9v1h-9zM146 218h9v1h-9zM190 218h9v1h-9zM274 218h9v1h-9zM85 219h10v1h-10zM146 219h9v1h-9zM190 219h9v1h-9zM274 219h9v1h-9zM85 220h9v1h-9zM147 220h9v1h-9zM193 220h2v1h-2zM274 220h9v1h-9zM85 221h9v1h-9zM147 221h9v1h-9zM190 221h9v1h-9zM274 221h9v1h-9zM84 222h10v1h-10zM147 222h9v1h-9zM193 222h2v1h-2zM274 222h9v1h-9zM84 223h9v1h-9zM148 223h9v1h-9zM189 223h9v1h-9zM275 223h9v1h-9zM84 224h9v1h-9zM148 224h9v1h-9zM189 224h9v1h-9zM275 224h9v1h-9zM83 225h10v1h-10zM148 225h9v1h-9zM192 225h3v1h-3zM275 225h9v1h-9zM83 226h9v1h-9zM149 226h9v1h-9zM189 226h9v1h-9zM275 226h9v1h-9zM83 227h9v1h-9zM149 227h9v1h-9zM189 227h9v1h-9zM276 227h9v1h-9zM83 228h9v1h-9zM149 228h9v1h-9zM192 228h2v1h-2zM276 228h9v1h-9zM82 229h9v1h-9zM149 229h9v1h-9zM188 229h9v1h-9zM276 229h9v1h-9zM82 230h9v1h-9zM150 230h9v1h-9zM188 230h9v1h-9zM279 230h3v1h-3zM82 231h9v1h-9zM150 231h9v1h-9zM191 231h3v1h-3zM276 231h9v1h-9zM81 232h9v1h-9zM150 232h9v1h-9zM188 232h9v1h-9zM277 232h9v1h-9zM81 233h9v1h-9zM151 233h9v1h-9zM188 233h9v1h-9zM277 233h9v1h-9zM81 234h9v1h-9zM151 234h9v1h-9zM191 234h2v1h-2zM277 234h9v1h-9zM80 235h9v1h-9zM151 235h9v1h-9zM187 235h9v1h-9zM277 235h9v1h-9zM80 236h9v1h-9zM152 236h9v1h-9zM191 236h2v1h-2zM278 236h9v1h-9zM80 237h9v1h-9zM152 237h9v1h-9zM187 237h9v1h-9zM278 237h9v1h-9zM79 238h9v1h-9zM152 238h9v1h-9zM187 238h9v1h-9zM278 238h9v1h-9zM79 239h9v1h-9zM153 239h9v1h-9zM190 239h2v1h-2zM278 239h9v1h-9zM79 240h9v1h-9zM153 240h9v1h-9zM187 240h9v1h-9zM279 240h9v1h-9zM78 241h9v1h-9zM153 241h9v1h-9zM187 241h9v1h-9zM279 241h9v1h-9zM78 242h9v1h-9zM154 242h9v1h-9zM190 242h2v1h-2zM279 242h9v1h-9zM371 242h1v1h-1zM78 243h9v1h-9zM154 243h9v1h-9zM186 243h9v1h-9zM279 243h9v1h-9zM370 243h3v1h-3zM78 244h9v1h-9zM154 244h9v1h-9zM186 244h9v1h-9zM279 244h9v1h-9zM369 244h4v1h-4zM77 245h9v1h-9zM154 245h9v1h-9zM189 245h3v1h-3zM280 245h9v1h-9zM367 245h7v1h-7zM77 246h9v1h-9zM155 246h9v1h-9zM186 246h9v1h-9zM280 246h9v1h-9zM366 246h10v1h-10zM77 247h9v1h-9zM155 247h9v1h-9zM189 247h2v1h-2zM280 247h9v1h-9zM365 247h12v1h-12zM76 248h9v1h-9zM155 248h9v1h-9zM186 248h9v1h-9zM280 248h9v1h-9zM364 248h13v1h-13zM76 249h9v1h-9zM156 249h9v1h-9zM185 249h9v1h-9zM281 249h9v1h-9zM363 249h15v1h-15zM76 250h9v1h-9zM156 250h9v1h-9zM189 250h2v1h-2zM281 250h9v1h-9zM362 250h17v1h-17zM75 251h9v1h-9zM156 251h9v1h-9zM185 251h9v1h-9zM281 251h9v1h-9zM361 251h19v1h-19zM75 252h9v1h-9zM157 252h9v1h-9zM185 252h9v1h-9zM281 252h9v1h-9zM360 252h10v1h-10zM371 252h9v1h-9zM75 253h9v1h-9zM157 253h9v1h-9zM188 253h2v1h-2zM282 253h9v1h-9zM359 253h10v1h-10zM371 253h10v1h-10zM74 254h9v1h-9zM157 254h9v1h-9zM185 254h9v1h-9zM282 254h9v1h-9zM358 254h10v1h-10zM372 254h10v1h-10zM74 255h9v1h-9zM158 255h9v1h-9zM184 255h9v1h-9zM282 255h9v1h-9zM357 255h10v1h-10zM373 255h9v1h-9zM74 256h9v1h-9zM158 256h9v1h-9zM188 256h2v1h-2zM285 256h3v1h-3zM356 256h10v1h-10zM374 256h9v1h-9zM73 257h9v1h-9zM158 257h9v1h-9zM184 257h9v1h-9zM282 257h9v1h-9zM354 257h11v1h-11zM374 257h10v1h-10zM73 258h9v1h-9zM159 258h9v1h-9zM187 258h3v1h-3zM283 258h9v1h-9zM354 258h10v1h-10zM375 258h10v1h-10zM73 259h9v1h-9zM159 259h9v1h-9zM184 259h9v1h-9zM283 259h9v1h-9zM352 259h11v1h-11zM376 259h9v1h-9zM73 260h9v1h-9zM159 260h9v1h-9zM184 260h9v1h-9zM283 260h9v1h-9zM351 260h11v1h-11zM377 260h9v1h-9zM72 261h9v1h-9zM159 261h9v1h-9zM187 261h2v1h-2zM283 261h9v1h-9zM350 261h11v1h-11zM377 261h10v1h-10zM72 262h9v1h-9zM160 262h9v1h-9zM183 262h9v1h-9zM284 262h9v1h-9zM349 262h11v1h-11zM378 262h9v1h-9zM72 263h9v1h-9zM160 263h9v1h-9zM183 263h9v1h-9zM284 263h9v1h-9zM348 263h11v1h-11zM379 263h9v1h-9zM71 264h9v1h-9zM160 264h9v1h-9zM186 264h3v1h-3zM284 264h9v1h-9zM347 264h10v1h-10zM379 264h10v1h-10zM71 265h9v1h-9zM161 265h9v1h-9zM183 265h9v1h-9zM284 265h9v1h-9zM346 265h10v1h-10zM380 265h10v1h-10zM71 266h9v1h-9zM161 266h9v1h-9zM183 266h9v1h-9zM284 266h9v1h-9zM345 266h10v1h-10zM381 266h9v1h-9zM70 267h9v1h-9zM161 267h9v1h-9zM186 267h2v1h-2zM285 267h9v1h-9zM344 267h10v1h-10zM382 267h9v1h-9zM70 268h9v1h-9zM162 268h9v1h-9zM182 268h9v1h-9zM285 268h9v1h-9zM343 268h10v1h-10zM382 268h10v1h-10zM70 269h9v1h-9zM162 269h9v1h-9zM182 269h9v1h-9zM285 269h9v1h-9zM342 269h10v1h-10zM383 269h9v1h-9zM69 270h9v1h-9zM162 270h9v1h-9zM185 270h3v1h-3zM285 270h9v1h-9zM341 270h10v1h-10zM384 270h9v1h-9zM69 271h9v1h-9zM163 271h9v1h-9zM182 271h9v1h-9zM286 271h9v1h-9zM340 271h10v1h-10zM384 271h10v1h-10zM69 272h9v1h-9zM163 272h9v1h-9zM185 272h2v1h-2zM286 272h9v1h-9zM338 272h11v1h-11zM385 272h10v1h-10zM68 273h9v1h-9zM163 273h9v1h-9zM182 273h9v1h-9zM286 273h9v1h-9zM337 273h11v1h-11zM386 273h10v1h-10zM68 274h9v1h-9zM164 274h9v1h-9zM181 274h9v1h-9zM286 274h9v1h-9zM336 274h11v1h-11zM387 274h9v1h-9zM68 275h9v1h-9zM164 275h9v1h-9zM185 275h2v1h-2zM287 275h9v1h-9zM335 275h11v1h-11zM388 275h9v1h-9zM67 276h9v1h-9zM164 276h9v1h-9zM181 276h9v1h-9zM287 276h9v1h-9zM334 276h11v1h-11zM388 276h10v1h-10zM67 277h9v1h-9zM165 277h9v1h-9zM181 277h9v1h-9zM287 277h9v1h-9zM333 277h11v1h-11zM389 277h9v1h-9zM67 278h9v1h-9zM165 278h9v1h-9zM184 278h2v1h-2zM287 278h9v1h-9zM332 278h11v1h-11zM390 278h9v1h-9zM67 279h9v1h-9zM165 279h9v1h-9zM181 279h9v1h-9zM288 279h9v1h-9zM331 279h10v1h-10zM390 279h10v1h-10zM66 280h9v1h-9zM165 280h9v1h-9zM181 280h9v1h-9zM288 280h9v1h-9zM330 280h10v1h-10zM391 280h10v1h-10zM66 281h9v1h-9zM166 281h9v1h-9zM184 281h2v1h-2zM291 281h3v1h-3zM329 281h10v1h-10zM392 281h9v1h-9zM66 282h9v1h-9zM166 282h9v1h-9zM180 282h9v1h-9zM288 282h9v1h-9zM328 282h10v1h-10zM393 282h9v1h-9zM65 283h9v1h-9zM166 283h9v1h-9zM184 283h2v1h-2zM288 283h9v1h-9zM327 283h10v1h-10zM393 283h10v1h-10zM65 284h9v1h-9zM167 284h9v1h-9zM180 284h9v1h-9zM289 284h9v1h-9zM326 284h10v1h-10zM394 284h9v1h-9zM65 285h9v1h-9zM167 285h9v1h-9zM180 285h9v1h-9zM289 285h9v1h-9zM325 285h10v1h-10zM395 285h9v1h-9zM64 286h9v1h-9zM167 286h9v1h-9zM183 286h2v1h-2zM289 286h9v1h-9zM324 286h10v1h-10zM395 286h10v1h-10zM64 287h9v1h-9zM168 287h9v1h-9zM180 287h9v1h-9zM289 287h9v1h-9zM322 287h11v1h-11zM396 287h10v1h-10zM64 288h9v1h-9zM168 288h9v1h-9zM179 288h9v1h-9zM290 288h9v1h-9zM321 288h11v1h-11zM397 288h9v1h-9zM63 289h9v1h-9zM168 289h9v1h-9zM183 289h2v1h-2zM290 289h9v1h-9zM320 289h11v1h-11zM398 289h9v1h-9zM63 290h9v1h-9zM169 290h9v1h-9zM179 290h9v1h-9zM290 290h9v1h-9zM319 290h11v1h-11zM398 290h10v1h-10zM63 291h9v1h-9zM169 291h9v1h-9zM179 291h9v1h-9zM290 291h9v1h-9zM318 291h10v1h-10zM399 291h9v1h-9zM62 292h9v1h-9zM169 292h9v1h-9zM182 292h2v1h-2zM290 292h9v1h-9zM317 292h10v1h-10zM400 292h9v1h-9zM62 293h9v1h-9zM170 293h18v1h-18zM291 293h9v1h-9zM316 293h10v1h-10zM400 293h10v1h-10zM62 294h9v1h-9zM170 294h17v1h-17zM291 294h9v1h-9zM315 294h10v1h-10zM401 294h10v1h-10zM62 295h9v1h-9zM170 295h9v1h-9zM182 295h2v1h-2zM291 295h9v1h-9zM314 295h10v1h-10zM402 295h9v1h-9zM61 296h9v1h-9zM170 296h17v1h-17zM291 296h9v1h-9zM313 296h10v1h-10zM403 296h9v1h-9zM61 297h9v1h-9zM171 297h9v1h-9zM181 297h3v1h-3zM292 297h9v1h-9zM312 297h10v1h-10zM403 297h10v1h-10zM61 298h9v1h-9zM171 298h16v1h-16zM292 298h9v1h-9zM311 298h10v1h-10zM404 298h9v1h-9zM60 299h9v1h-9zM171 299h16v1h-16zM292 299h9v1h-9zM310 299h10v1h-10zM405 299h9v1h-9zM60 300h9v1h-9zM172 300h11v1h-11zM292 300h9v1h-9zM309 300h10v1h-10zM405 300h10v1h-10zM60 301h9v1h-9zM172 301h14v1h-14zM293 301h9v1h-9zM307 301h11v1h-11zM406 301h10v1h-10zM59 302h9v1h-9zM172 302h14v1h-14zM293 302h9v1h-9zM306 302h11v1h-11zM407 302h9v1h-9zM59 303h9v1h-9zM173 303h10v1h-10zM293 303h9v1h-9zM305 303h11v1h-11zM408 303h9v1h-9zM59 304h9v1h-9zM173 304h13v1h-13zM293 304h9v1h-9zM304 304h11v1h-11zM408 304h10v1h-10zM58 305h9v1h-9zM173 305h13v1h-13zM294 305h20v1h-20zM409 305h9v1h-9zM58 306h9v1h-9zM174 306h9v1h-9zM294 306h18v1h-18zM410 306h9v1h-9zM58 307h9v1h-9zM174 307h11v1h-11zM297 307h3v1h-3zM301 307h10v1h-10zM410 307h10v1h-10zM57 308h9v1h-9zM174 308h9v1h-9zM294 308h16v1h-16zM411 308h10v1h-10zM57 309h9v1h-9zM175 309h10v1h-10zM294 309h15v1h-15zM412 309h9v1h-9zM57 310h9v1h-9zM175 310h10v1h-10zM295 310h13v1h-13zM413 310h9v1h-9zM56 311h9v1h-9zM175 311h9v1h-9zM295 311h12v1h-12zM413 311h10v1h-10zM56 312h9v1h-9zM176 312h9v1h-9zM295 312h11v1h-11zM414 312h10v1h-10zM60 313h2v1h-2zM179 313h2v1h-2zM295 313h10v1h-10zM416 313h4v1h-4zM60 314h2v1h-2zM179 314h2v1h-2zM299 314h5v1h-5zM417 314h3v1h-3zM60 315h1v1h-1zM179 315h2v1h-2zM299 315h4v1h-4zM417 315h3v1h-3zM60 316h1v1h-1zM180 316h1v1h-1zM299 316h3v1h-3zM418 316h2v1h-2zM299 317h2v1h-2z"/>
<path fill="#fff" d="M297 9h120v70h-120z"/>
<path fill="#262626" d="M297 9h120v70h-120zM298 10v68h118v-68z"/>
<path fill="#0000ff" d="M325 28h9v1h-9zM329 24h1v9h-1z"/>
<path fill="#ff0000" d="M325 59h9v1h-9zM329 55h1v9h-1z"/>
</g>
<text transform="translate(567.0 996.0) scale(1 1.03)" font-size="62.9" fill="#262626" text-anchor="middle">500</text>
<text transform="translate(880.3 996.0) scale(1 1.03)" font-size="62.9" fill="#262626" text-anchor="middle">1000</text>
<text transform="translate(1191.9 996.0) scale(1 1.03)" font-size="62.9" fill="#262626" text-anchor="middle">1500</text>
<text transform="translate(236.0 194.0) scale(1 1.03)" font-size="62.9" fill="#262626" text-anchor="end">1.1</text>
<text transform="translate(236.0 318.2) scale(1 1.03)" font-size="62.9" fill="#262626" text-anchor="end">1.05</text>
<text transform="translate(236.0 441.6) scale(1 1.03)" font-size="62.9" fill="#262626" text-anchor="end">1</text>
<text transform="translate(236.0 566.3) scale(1 1.03)" font-size="62.9" fill="#262626" text-anchor="end">0.95</text>
<text transform="translate(236.0 690.3) scale(1 1.03)" font-size="62.9" fill="#262626" text-anchor="end">0.9</text>
<text transform="translate(236.0 814.4) scale(1 1.03)" font-size="62.9" fill="#262626" text-anchor="end">0.85</text>
<text transform="translate(803.4 67.0) scale(1 1.03)" font-size="62.9" fill="#000" text-anchor="middle">Instantaneous Frequency Law</text>
<text transform="translate(801.2 1078.4) scale(1 1.03)" font-size="62.9" fill="#000" text-anchor="middle">Samples</text>
<text transform="translate(88.3 502.9) rotate(-90) scale(1 1.03)" font-size="63.15" fill="#000" text-anchor="middle">Frequency [MHz]</text>
<text transform="translate(1186.0 191.2) scale(1 1.03)" font-size="62.9" fill="#000" text-anchor="start">IFL1</text>
<text transform="translate(1186.0 274.8) scale(1 1.03)" font-size="62.9" fill="#000" text-anchor="start">IFL2</text>
</g>
</svg>
</body></html>
